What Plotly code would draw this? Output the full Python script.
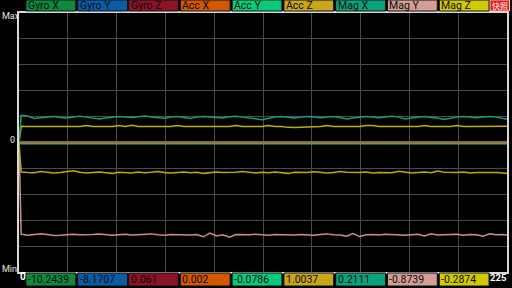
import plotly.graph_objects as go

# ---------------- data ----------------
SERIES_NAMES = ["Gyro X", "Gyro Y", "Gyro Z", "Acc X", "Acc Y", "Acc Z", "Mag X", "Mag Y", "Mag Z"]
CURRENT_VALUES = ["-10.2439", "-8.1707", "0.061", "0.002", "-0.0786", "1.0037", "0.2111", "-0.8739", "-0.2874"]
X_MAX = 225
SAMPLE_X = [0] + list(range(1, 224, 3)) + [225]  # 77 sample positions

gyro_x = [0.0] + [0.0] * 76
gyro_y = [0.0] + [0.0] * 76
gyro_z = [0.0] + [0.001] * 76
acc_x = [0.0] + [0.004] * 76
acc_y = [0.0] + [-0.012] * 76

acc_z = [0.0,
         0.156, 0.155, 0.154, 0.155, 0.155, 0.156, 0.154, 0.155, 0.155, 0.155,
         0.165, 0.155, 0.155, 0.154, 0.155, 0.165, 0.155, 0.166, 0.155, 0.155,
         0.155, 0.154, 0.155, 0.155, 0.164, 0.155, 0.155, 0.154, 0.155, 0.155,
         0.156, 0.155, 0.155, 0.165, 0.155, 0.154, 0.155, 0.155, 0.164, 0.155,
         0.155, 0.146, 0.145, 0.147, 0.155, 0.156, 0.155, 0.165, 0.155, 0.155,
         0.154, 0.155, 0.155, 0.164, 0.165, 0.155, 0.155, 0.154, 0.155, 0.156,
         0.155, 0.155, 0.165, 0.155, 0.155, 0.154, 0.155, 0.164, 0.155, 0.155,
         0.155, 0.156, 0.155, 0.155, 0.154, 0.156]

mag_x = [0.0,
         0.262, 0.255, 0.232, 0.238, 0.244, 0.250, 0.242, 0.236, 0.246, 0.254,
         0.245, 0.240, 0.228, 0.236, 0.247, 0.252, 0.245, 0.242, 0.249, 0.256,
         0.247, 0.240, 0.235, 0.245, 0.250, 0.242, 0.232, 0.245, 0.252, 0.247,
         0.242, 0.237, 0.249, 0.254, 0.245, 0.240, 0.230, 0.220, 0.236, 0.247,
         0.250, 0.242, 0.237, 0.245, 0.252, 0.247, 0.240, 0.245, 0.250, 0.242,
         0.226, 0.236, 0.247, 0.252, 0.245, 0.240, 0.247, 0.254, 0.245, 0.228,
         0.237, 0.247, 0.250, 0.242, 0.236, 0.222, 0.237, 0.247, 0.252, 0.245,
         0.240, 0.247, 0.252, 0.245, 0.232, 0.225]

mag_y = [0.0,
         -0.885, -0.895, -0.890, -0.880, -0.888, -0.898, -0.895, -0.890, -0.885, -0.890,
         -0.892, -0.888, -0.882, -0.890, -0.895, -0.890, -0.885, -0.892, -0.888, -0.890,
         -0.882, -0.890, -0.895, -0.888, -0.890, -0.885, -0.892, -0.888, -0.910, -0.875,
         -0.902, -0.890, -0.915, -0.888, -0.892, -0.890, -0.885, -0.890, -0.895, -0.888,
         -0.890, -0.885, -0.892, -0.888, -0.890, -0.895, -0.888, -0.882, -0.890, -0.892,
         -0.905, -0.878, -0.908, -0.890, -0.888, -0.892, -0.885, -0.890, -0.888, -0.895,
         -0.890, -0.885, -0.902, -0.880, -0.892, -0.888, -0.890, -0.885, -0.895, -0.888,
         -0.890, -0.905, -0.882, -0.890, -0.888, -0.892]

mag_z = [0.0,
         -0.285, -0.290, -0.292, -0.280, -0.288, -0.295, -0.290, -0.278, -0.272, -0.288,
         -0.295, -0.290, -0.285, -0.292, -0.298, -0.288, -0.290, -0.295, -0.285, -0.292,
         -0.288, -0.280, -0.290, -0.295, -0.290, -0.285, -0.292, -0.288, -0.298, -0.290,
         -0.285, -0.290, -0.292, -0.288, -0.280, -0.290, -0.295, -0.288, -0.292, -0.285,
         -0.290, -0.298, -0.288, -0.292, -0.290, -0.282, -0.290, -0.295, -0.290, -0.280,
         -0.288, -0.292, -0.290, -0.285, -0.295, -0.290, -0.288, -0.292, -0.278, -0.290,
         -0.295, -0.290, -0.285, -0.292, -0.276, -0.288, -0.292, -0.290, -0.285, -0.295,
         -0.290, -0.288, -0.292, -0.290, -0.295, -0.300]

SERIES_VALUES = [gyro_x, gyro_y, gyro_z, acc_x, acc_y, acc_z, mag_x, mag_y, mag_z]

# ---------------- style ----------------
BOX_COLORS = ["#0e8a3f", "#0b5ca6", "#8c1427", "#d25800", "#05cc7a",
              "#c9a61c", "#0aa37c", "#d49e96", "#d3c900"]
LINE_COLORS = ["#0e8a3f", "#0b5ca6", "#a0202f", "#e2641a", "#12c07c",
               "#c2ae00", "#12a07a", "#c99088", "#b5ad00"]

W, H = 512, 288
PL, PR, PT, PB = 19, 509, 13, 272


def px(x):
    return (x - PL) / (PR - PL)


def py(y):
    return (PB - y) / (PB - PT)


fig = go.Figure()
for name, vals, col in zip(SERIES_NAMES, SERIES_VALUES, LINE_COLORS):
    fig.add_trace(go.Scatter(x=SAMPLE_X, y=vals, mode="lines", name=name,
                             line=dict(color=col, width=1.5), hoverinfo="skip"))

shapes = []
annotations = []
BOX_X = [26, 78, 129, 181, 233, 285, 337, 389, 441]
BOX_W = 50
FONT = "Roboto, Noto Sans, sans-serif"
NARROW = "Liberation Sans Narrow, Roboto, sans-serif"

for i, (name, val) in enumerate(zip(SERIES_NAMES, CURRENT_VALUES)):
    x0 = BOX_X[i]
    for (y0, y1, text) in [(0, 11, name), (273, 286, val)]:
        shapes.append(dict(type="rect", xref="paper", yref="paper",
                           x0=px(x0), x1=px(x0 + BOX_W), y0=py(y1), y1=py(y0),
                           fillcolor=BOX_COLORS[i], line=dict(color="#101010", width=1),
                           layer="above"))
        annotations.append(dict(xref="paper", yref="paper", x=px(x0 + 1), y=py((y0 + y1) / 2),
                                xanchor="left", yanchor="middle", text=text, showarrow=False,
                                borderpad=0,
                                font=dict(family=FONT, size=10.5, color="#0a0a0a")))

# snapshot button
shapes.append(dict(type="rect", xref="paper", yref="paper",
                   x0=px(492), x1=px(511.5), y0=py(11), y1=py(0),
                   fillcolor="#e01a1a", line=dict(color="#f0c8c8", width=1), layer="above"))
annotations.append(dict(xref="paper", yref="paper", x=px(501.8), y=py(5.8),
                        xanchor="center", yanchor="middle", text="快照", showarrow=False,
                        borderpad=0,
                        font=dict(family="Noto Sans CJK SC", size=8, color="#ffffff")))

# side labels
for text, x, y, anchor in [("Max", 0.5, 16, "left"), ("0", 16, 139.5, "right"),
                           ("Min", 0.5, 268.5, "left")]:
    annotations.append(dict(xref="paper", yref="paper", x=px(x), y=py(y), xanchor=anchor,
                            yanchor="middle", text=text, showarrow=False, borderpad=0,
                            font=dict(family=NARROW, size=9, color="#e8e8e8")))
annotations.append(dict(xref="paper", yref="paper", x=px(18.5), y=py(276.5), xanchor="left",
                        yanchor="middle", text="<b>0</b>", showarrow=False, borderpad=0,
                        font=dict(family=FONT, size=10, color="#ffffff")))
annotations.append(dict(xref="paper", yref="paper", x=px(510.5), y=py(277.5), xanchor="right",
                        yanchor="middle", text="<b>%d</b>" % X_MAX, showarrow=False, borderpad=0,
                        font=dict(family=FONT, size=9.5, color="#ffffff")))

fig.update_layout(
    width=W, height=H, autosize=False,
    margin=dict(l=PL, r=W - PR, t=PT, b=H - PB, pad=0),
    paper_bgcolor="#000000", plot_bgcolor="#000000",
    showlegend=False, shapes=shapes, annotations=annotations,
    xaxis=dict(range=[0, X_MAX], dtick=X_MAX / 10, tick0=0, showgrid=True, gridcolor="#4a4a4a",
               gridwidth=1, showticklabels=False, zeroline=False, showline=True, mirror=True,
               linecolor="#d8d8d8", linewidth=1.5, ticks=""),
    yaxis=dict(range=[-1.25, 1.25], dtick=0.25, tick0=0, showgrid=True, gridcolor="#4a4a4a",
               gridwidth=1, showticklabels=False, zeroline=False, showline=True, mirror=True,
               linecolor="#d8d8d8", linewidth=1.5, ticks=""),
)

fig.write_html("out.html")
